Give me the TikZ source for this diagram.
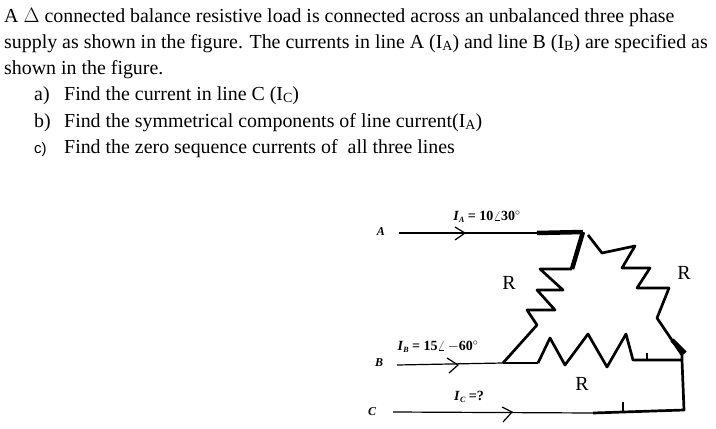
\documentclass[tikz,border=0pt]{standalone}
\usepackage{fontspec}
\setmainfont{Liberation Serif}
\newfontfamily\armfont{Liberation Sans}
\newcommand{\lowsub}[1]{\raisebox{-2pt}{\fontsize{14}{15}\selectfont #1}}
\newcommand{\diagsub}[1]{\raisebox{-2pt}{\fontsize{8}{8}\selectfont\itshape #1}}
\newcommand{\angsym}{$\angle$}
\tikzset{
  x=1pt,y=-1pt,
  body/.style={anchor=base west,inner sep=0pt,font=\fontsize{19.9}{22}\selectfont},
  clabel/.style={inner sep=0pt,font=\fontsize{14}{16}\selectfont\bfseries},
  term/.style={inner sep=0pt,font=\fontsize{12}{14}\selectfont\bfseries\itshape},
  rlabel/.style={inner sep=0pt,font=\fontsize{20}{22}\selectfont},
  wire/.style={line width=1.2pt,black},
  coil/.style={line width=2.7pt,black,line join=round},
  heavy/.style={line width=4.5pt,black},
  chev/.style={line width=1.2pt,black}
}
\begin{document}
\begin{tikzpicture}
\useasboundingbox (0,0) rectangle (716,429);
% question text
\node[body] at (4,22) {A $\Delta$ connected balance resistive load is connected across an unbalanced three phase};
\node[body] at (4,48) {supply as shown in the figure. The currents in line A (I\lowsub{A}) and line B (I\lowsub{B}) are specified as};
\node[body] at (4,74) {shown in the figure.};
\node[body] at (34,100) {a)};
\node[body] at (64,100) {Find the current in line C (I\lowsub{C})};
\node[body] at (34,127) {b)};
\node[body] at (64,127) {Find the symmetrical components of line current(I\lowsub{A})};
\node[body,font=\fontsize{15}{17}\armfont] at (34,153) {c)};
\node[body] at (64,153) {Find the zero sequence currents of \ all three lines};
% terminals
\node[term] (la) at (381,232) {A};
\node[term] (lb) at (379,363) {B};
\node[term] (lc) at (372,412) {C};
\coordinate (a0) at (399,233);
\coordinate (a1) at (537,233);
\coordinate (a2) at (583,232);
\coordinate (b0) at (397,365);
\coordinate (b1) at (503,363);
\coordinate (b2) at (538,363);
\coordinate (c0) at (393,412);
\coordinate (c1) at (593,413);
\coordinate (n) at (682,360);
\coordinate (nd) at (684,410);
% lines
\draw[wire] (a0) -- (a1);
\draw[heavy] (a1) -- (a2);
\draw[wire] (b0) -- (b1);
\draw[coil,line width=2pt] (b1) -- (b2);
\draw[wire] (c0) -- (c1);
\draw[coil] (c1) -- (nd) -- (n);
% left resistor
\draw[heavy] (a2) -- (572,269);
\draw[coil] (572,269) -- (540,269) -- (563,290) -- (537,290) -- (555,310) -- (527,310) -- (537,325) -- (b1);
% right resistor
\draw[coil] (588,235) -- (602,253) -- (635,246) -- (622,268) -- (650,268) -- (637,288) -- (669,288) -- (657,318) -- (682,355) -- (n);
\draw[line width=4.5pt] (672,340) -- (685,353);
% bottom resistor
\draw[coil] (b2) -- (550,338) -- (565,365) -- (588,334) -- (607,367) -- (626,334) -- (633,360) -- (n);
% small ticks
\draw[wire] (647,353) -- (647,360);
\draw[wire] (623,402) -- (623,412);
% arrowheads
\draw[chev] (455,227) -- (465,233) -- (455,240);
\draw[chev] (447,358) -- (458,365) -- (449,373);
\draw[chev] (502,407) -- (512,412) -- (503,422);
% labels
\node[clabel] (ia) at (487,217) {\textit{I}\diagsub{A} = 10\angsym 30$^{\circ}$};
\node[clabel] (ib) at (438,347) {\textit{I}\diagsub{B} = 15\angsym\,$-$60$^{\circ}$};
\node[clabel] (ic) at (469,397) {\textit{I}\diagsub{C} =?};
\node[rlabel] (r1) at (509,283) {R};
\node[rlabel] (r2) at (684,273) {R};
\node[rlabel] (r3) at (582,384) {R};
\end{tikzpicture}
\end{document}
